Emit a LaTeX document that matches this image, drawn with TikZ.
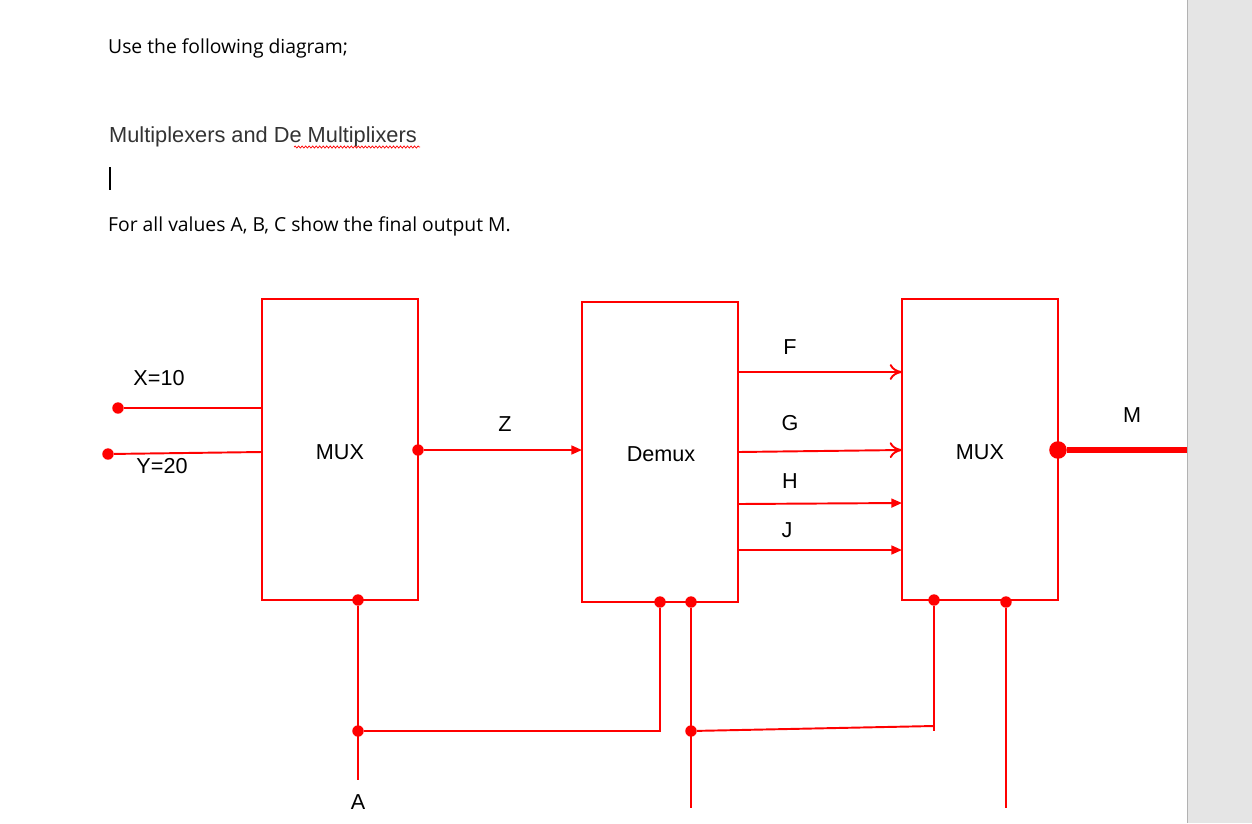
\documentclass[tikz,border=0pt]{standalone}
\usepackage{fontspec}
\setmainfont{Open Sans}
\newfontfamily\arialf{Liberation Sans}
\usetikzlibrary{arrows.meta,decorations.pathmorphing}
\definecolor{rd}{HTML}{FF0000}
\begin{document}
\begin{tikzpicture}[x=0.02cm,y=-0.02cm,
  wire/.style={draw=rd,line width=1.1pt},
  blk/.style={draw=rd,line width=1.1pt},
  lbl/.style={font=\arialf\fontsize{12.3}{14}\selectfont},
  dot/.style={circle,fill=rd,inner sep=0pt,minimum size=6.5pt},
  para/.style={anchor=west,font=\fontsize{11}{13}\selectfont}]
\useasboundingbox (0,0) rectangle (1252,823);
\fill[white] (0,0) rectangle (1252,823);
\fill[black!10] (1187,0) rectangle (1252,823);
\draw[black!30] (1187,0) -- (1187,823);
\node[para] (t1) at (102,48) {Use the following diagram;};
\node[para,anchor=west,text=black!80,font=\arialf\fontsize{12.4}{14}\selectfont] (t2) at (103,137) {Multiplexers and De Multiplixers};
\draw[rd,line width=0.4pt,decorate,decoration={snake,amplitude=0.6pt,segment length=2pt}] (294,147) -- (420,147);
\draw[black,line width=0.6pt] (110,167) -- (110,190);
\node[para] (t3) at (102,226) {For all values A, B, C show the final output M.};
% blocks
\draw[blk] (262,299) rectangle (418,600);
\draw[blk] (582,302) rectangle (738,602);
\draw[blk] (902,299) rectangle (1058,600);
\node[lbl] (mux1) at (340,452) {MUX};
\node[lbl] (dmx) at (661,454) {Demux};
\node[lbl] (mux2) at (980,452) {MUX};
% inputs
\node[lbl] (xl) at (159,378) {X=10};
\node[lbl] (yl) at (162,466) {Y=20};
\node[dot] (xd) at (118,408) {};
\node[dot] (yd) at (108,454) {};
\coordinate (xe) at (262,408);
\coordinate (ye) at (262,452);
\draw[wire] (xd) -- (xe);
\draw[wire] (yd) -- (ye);
% Z
\node[dot] (zd) at (418,450) {};
\coordinate (ze) at (582,450);
\draw[wire,-{Triangle[length=6pt,width=5pt]}] (zd) -- (ze);
\node[lbl] (z) at (505,424) {Z};
% F G H J
\node[lbl] (f) at (790,347) {F};
\node[lbl] (g) at (790,423) {G};
\node[lbl] (h) at (790,481) {H};
\node[lbl] (j) at (787,530) {J};
\coordinate (f0) at (738,372); \coordinate (f1) at (902,372);
\coordinate (g0) at (738,452); \coordinate (g1) at (902,450);
\coordinate (h0) at (738,504); \coordinate (h1) at (902,503);
\coordinate (j0) at (738,550); \coordinate (j1) at (902,550);
\draw[wire,-{To[length=7pt,width=9pt]}] (f0) -- (f1);
\draw[wire,-{To[length=7pt,width=9pt]}] (g0) -- (g1);
\draw[wire,-{Triangle[length=6pt,width=5pt]}] (h0) -- (h1);
\draw[wire,-{Triangle[length=6pt,width=5pt]}] (j0) -- (j1);
% output
\node[circle,fill=rd,inner sep=0pt,minimum size=10pt] (md) at (1058,450) {};
\coordinate (me) at (1187,450);
\draw[draw=rd,line width=3pt] (md) -- (me);
\node[lbl] (m) at (1132,415) {M};
% selects
\node[dot] (s1) at (358,600) {};
\node[dot] (s1b) at (358,731) {};
\coordinate (s1e) at (358,780);
\node[lbl] (a) at (358,802) {A};
\draw[wire] (s1) -- (s1e);
\node[dot] (s2) at (660,602) {};
\coordinate (s2c) at (660,731);
\draw[wire] (s1b) -- (s2c) -- (s2);
\node[dot] (s3) at (691,602) {};
\node[dot] (s3b) at (691,731) {};
\coordinate (s3e) at (691,808);
\draw[wire] (s3) -- (s3e);
\node[dot] (s4) at (934,600) {};
\coordinate (s4c) at (934,726);
\coordinate (s4e) at (934,731);
\draw[wire] (s3b) -- (s4c);
\draw[wire] (s4) -- (s4e);
\node[dot] (s5) at (1006,602) {};
\coordinate (s5e) at (1006,808);
\draw[wire] (s5) -- (s5e);
\end{tikzpicture}
\end{document}
